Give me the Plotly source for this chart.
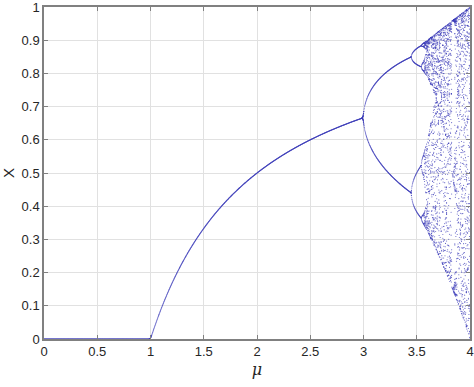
import numpy as np
import plotly.graph_objects as go

# Logistic-map bifurcation data settings
mu_start = 0.0
mu_stop = 4.0
mu_step = 0.0025
n_transient = 300
n_keep = 16
x0 = 0.5

x_ticks = [0, 0.5, 1, 1.5, 2, 2.5, 3, 3.5, 4]
x_tick_labels = ["0", "0.5", "1", "1.5", "2", "2.5", "3", "3.5", "4"]
y_ticks = [0, 0.1, 0.2, 0.3, 0.4, 0.5, 0.6, 0.7, 0.8, 0.9, 1]
y_tick_labels = ["0", "0.1", "0.2", "0.3", "0.4", "0.5", "0.6", "0.7", "0.8", "0.9", "1"]

mu = np.arange(mu_start, mu_stop + mu_step / 2, mu_step)
x = np.full_like(mu, x0)
for _ in range(n_transient):
    x = mu * x * (1 - x)
mus, xs = [], []
for _ in range(n_keep):
    x = mu * x * (1 - x)
    mus.append(mu.copy())
    xs.append(x.copy())
mus = np.concatenate(mus)
xs = np.concatenate(xs)
# remove duplicates (converged fixed points)
pairs = np.unique(np.stack([np.round(mus, 5), np.round(xs, 4)], axis=1), axis=0)

fig = go.Figure()
fig.add_trace(go.Scatter(
    x=pairs[:, 0], y=pairs[:, 1], mode="markers",
    marker=dict(size=1.1, color="rgb(60,60,185)", opacity=0.8, line=dict(width=0)),
    hoverinfo="skip", showlegend=False,
))

axis_common = dict(
    showline=True, linecolor="rgb(128,128,128)", linewidth=1.5, mirror="allticks",
    ticks="inside", ticklen=4, tickcolor="rgb(128,128,128)",
    showgrid=True, gridcolor="rgb(225,225,225)", gridwidth=1,
    zeroline=False, automargin=False, ticklabeloverflow="allow",
    tickfont=dict(family="Liberation Sans, Arial, sans-serif", size=13, color="rgb(38,38,38)"),
)

fig.update_layout(
    width=474, height=387,
    margin=dict(l=44, r=4, t=7, b=48),
    paper_bgcolor="white", plot_bgcolor="white",
    xaxis=dict(range=[0, 4], tickvals=x_ticks, ticktext=x_tick_labels,
               title=dict(text="<i>μ</i>", standoff=5,
                          font=dict(family="DejaVu Serif, serif", size=16, color="rgb(38,38,38)")),
               **axis_common),
    yaxis=dict(range=[0, 1], tickvals=y_ticks, ticktext=y_tick_labels,
               title=dict(text="X", standoff=8,
                          font=dict(family="Liberation Sans, Arial, sans-serif", size=15, color="rgb(38,38,38)")),
               **axis_common),
)

fig.write_html(
    "out.html",
    config={"displayModeBar": False},
    post_script="document.body.style.margin='0';document.body.style.overflow='hidden';",
)
